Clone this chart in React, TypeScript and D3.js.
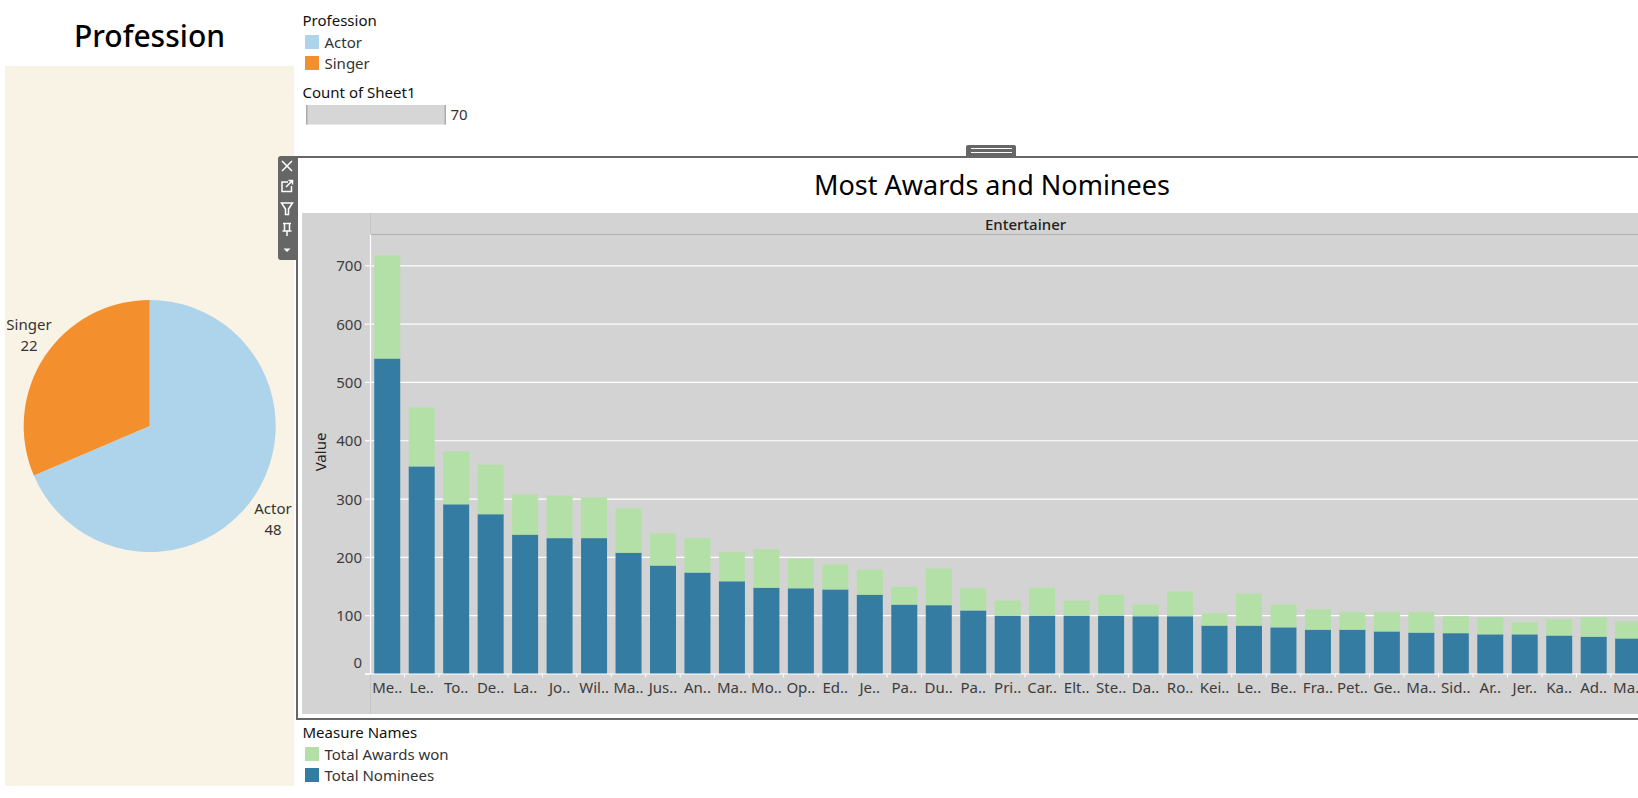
import { useEffect, useRef } from 'react'
import * as d3 from 'd3'

const WIDTH = 1638
const HEIGHT = 798
const FONT = '"Noto Sans", sans-serif'

const entertainers = ['Me..', 'Le..', 'To..', 'De..', 'La..', 'Jo..', 'Wil..', 'Ma..', 'Jus..', 'An..', 'Ma..', 'Mo..', 'Op..', 'Ed..', 'Je..', 'Pa..', 'Du..', 'Pa..', 'Pri..', 'Car..', 'Elt..', 'Ste..', 'Da..', 'Ro..', 'Kei..', 'Le..', 'Be..', 'Fra..', 'Pet..', 'Ge..', 'Ma..', 'Sid..', 'Ar..', 'Jer..', 'Ka..', 'Ad..', 'Ma..']
const totalNominees = [541, 356, 291, 274, 239, 233, 233, 208, 186, 174, 159, 148, 147, 145, 136, 119, 118, 109, 100, 100, 100, 100, 99, 99, 83, 83, 80, 76, 76, 73, 71, 70, 68, 68, 66, 64, 61]
const totalAwards = [177, 101, 91, 85, 69, 73, 70, 76, 55, 59, 50, 66, 51, 43, 43, 31, 63, 38, 26, 48, 26, 36, 20, 43, 21, 55, 39, 35, 30, 33, 35, 29, 29, 21, 28, 33, 29]
const valueTicks = [0, 100, 200, 300, 400, 500, 600, 700]

const professions = ['Actor', 'Singer']
const professionCounts = [48, 22]

const measureNames = ['Total Awards won', 'Total Nominees']

const ACTOR = '#aed4ec'
const SINGER = '#f48f2d'
const AWARDS = '#b3e0a6'
const NOMINEES = '#347ca2'
const PANE = '#d3d3d3'
const BEIGE = '#f9f3e5'
const CHROME = '#666666'
const TEXT = '#333333'

export default function App() {
  const ref = useRef<SVGSVGElement | null>(null)

  useEffect(() => {
    const svg = d3.select(ref.current)
    svg.selectAll('*').remove()
    svg.attr('font-family', FONT)

    // Left dashboard panel with the pie
    svg.append('text')
      .attr('x', 149.5).attr('y', 47)
      .attr('text-anchor', 'middle')
      .attr('font-size', 30)
      .attr('font-weight', 500)
      .attr('fill', '#000')
      .text('Profession')
    svg.append('rect').attr('x', 5).attr('y', 66).attr('width', 289).attr('height', 720).attr('fill', BEIGE)

    const pieG = svg.append('g').attr('transform', 'translate(149.7,426)')
    const pie = d3.pie<number>().sort(null)
    const arc = d3.arc<d3.PieArcDatum<number>>().innerRadius(0).outerRadius(126)
    pieG.selectAll('path')
      .data(pie(professionCounts))
      .enter()
      .append('path')
      .attr('d', arc)
      .attr('fill', (_d, i) => (i === 0 ? ACTOR : SINGER))

    const pieLabels = [
      { x: 273, y: 513.5, i: 0 },
      { x: 29, y: 329.5, i: 1 },
    ]
    pieLabels.forEach((l) => {
      const t = svg.append('text')
        .attr('text-anchor', 'middle')
        .attr('font-size', 15)
        .attr('fill', TEXT)
      t.append('tspan').attr('x', l.x).attr('y', l.y).text(professions[l.i])
      t.append('tspan').attr('x', l.x).attr('y', l.y + 21).text(String(professionCounts[l.i]))
    })

    // Top legends
    const legendTitle = (s: string, y: number) =>
      svg.append('text').attr('x', 302.5).attr('y', y).attr('font-size', 15).attr('fill', '#111').text(s)
    const legendItem = (s: string, color: string, y: number) => {
      svg.append('rect').attr('x', 305).attr('y', y).attr('width', 14).attr('height', 14).attr('fill', color)
      svg.append('text').attr('x', 324.5).attr('y', y + 13).attr('font-size', 15).attr('fill', TEXT).text(s)
    }
    legendTitle('Profession', 26)
    professions.forEach((p, i) => legendItem(p, i === 0 ? ACTOR : SINGER, 35 + i * 21))
    legendTitle('Count of Sheet1', 97.5)
    svg.append('rect').attr('x', 306).attr('y', 105).attr('width', 140).attr('height', 19.5).attr('fill', '#d6d6d6')
    svg.append('rect').attr('x', 306).attr('y', 105).attr('width', 1.5).attr('height', 19.5).attr('fill', '#aaa')
    svg.append('rect').attr('x', 444.5).attr('y', 105).attr('width', 1.5).attr('height', 19.5).attr('fill', '#aaa')
    svg.append('text').attr('x', 450.5).attr('y', 120).attr('font-size', 15).attr('fill', TEXT).text('70')

    // Selected sheet frame
    svg.append('rect').attr('x', 297).attr('y', 157).attr('width', 1400).attr('height', 562)
      .attr('fill', '#fff').attr('stroke', CHROME).attr('stroke-width', 2)
    svg.append('text')
      .attr('x', 992).attr('y', 195)
      .attr('text-anchor', 'middle')
      .attr('font-size', 27)
      .attr('fill', '#000')
      .text('Most Awards and Nominees')

    // Drag handle above the frame
    svg.append('path').attr('d', 'M966,156V147a2,2 0 0 1 2,-2H1014a2,2 0 0 1 2,2V156Z').attr('fill', CHROME)
    svg.append('path').attr('d', 'M971,148.5H1012M971,152.5H1012').attr('stroke', '#fff').attr('stroke-width', 1)

    // Grey pane and header strip
    const plotLeft = 370.5
    const baseY = 674
    svg.append('rect').attr('x', 302).attr('y', 213).attr('width', 1340).attr('height', 501).attr('fill', PANE)
    svg.append('line').attr('x1', plotLeft).attr('x2', WIDTH).attr('y1', 234.5).attr('y2', 234.5).attr('stroke', '#b0b0b0')
    svg.append('line').attr('x1', plotLeft).attr('x2', plotLeft).attr('y1', 213).attr('y2', 714).attr('stroke', '#c6c6c6')
    svg.append('text')
      .attr('x', 1025.5).attr('y', 230)
      .attr('text-anchor', 'middle')
      .attr('font-size', 15)
      .attr('font-weight', 500)
      .attr('fill', '#222')
      .text('Entertainer')

    const x = d3.scaleBand<string>()
      .domain(entertainers.map((_d, i) => String(i)))
      .range([370, 370 + 37 * 34.47])
      .paddingInner(0.246)
      .paddingOuter(0.123)
    const y = d3.scaleLinear().domain([0, 700]).range([baseY, 265.8])

    // Gridlines and value axis
    valueTicks.filter((t) => t > 0).forEach((t) => {
      svg.append('line').attr('x1', plotLeft).attr('x2', WIDTH).attr('y1', y(t)).attr('y2', y(t))
        .attr('stroke', '#fff').attr('stroke-width', 1.2)
    })
    valueTicks.forEach((t) => {
      svg.append('line').attr('x1', 365).attr('x2', plotLeft).attr('y1', y(t)).attr('y2', y(t))
        .attr('stroke', '#fff').attr('stroke-width', 1.2)
      svg.append('text')
        .attr('x', 362).attr('y', t === 0 ? 668 : y(t) + 5.5)
        .attr('text-anchor', 'end')
        .attr('font-size', 15)
        .attr('fill', '#3c3c3c')
        .text(String(t))
    })
    svg.append('line').attr('x1', plotLeft).attr('x2', plotLeft).attr('y1', 234.5).attr('y2', baseY)
      .attr('stroke', '#fff').attr('stroke-width', 1.2)
    svg.append('text')
      .attr('transform', 'translate(325.5,452) rotate(-90)')
      .attr('text-anchor', 'middle')
      .attr('font-size', 15)
      .attr('fill', '#222')
      .text('Value')

    // Stacked bars
    const bars = svg.append('g')
    entertainers.forEach((_name, i) => {
      const n = totalNominees[i]
      const a = totalAwards[i]
      const key = String(i)
      bars.append('rect')
        .attr('x', x(key)!).attr('width', x.bandwidth())
        .attr('y', y(n)).attr('height', y(0) - y(n))
        .attr('fill', NOMINEES)
      bars.append('rect')
        .attr('x', x(key)!).attr('width', x.bandwidth())
        .attr('y', y(n + a)).attr('height', y(n) - y(n + a))
        .attr('fill', AWARDS)
    })

    // Category axis
    svg.append('line').attr('x1', 365).attr('x2', WIDTH).attr('y1', baseY).attr('y2', baseY)
      .attr('stroke', '#fff').attr('stroke-width', 1.2)
    entertainers.forEach((name, i) => {
      const key = String(i)
      const cx = x(key)! + x.bandwidth() / 2
      svg.append('line')
        .attr('x1', cx + x.step() / 2).attr('x2', cx + x.step() / 2)
        .attr('y1', baseY).attr('y2', baseY + 3.5)
        .attr('stroke', '#fff')
      svg.append('text')
        .attr('x', cx).attr('y', 692.5)
        .attr('text-anchor', 'middle')
        .attr('font-size', 15)
        .attr('fill', '#3c3c3c')
        .text(name)
    })

    // Bottom legend
    legendTitle('Measure Names', 737.5)
    measureNames.forEach((m, i) => legendItem(m, i === 0 ? AWARDS : NOMINEES, 747 + i * 21))

    // Floating toolbar of the selected sheet
    svg.append('path').attr('d', 'M298,156H281a3,3 0 0 0 -3,3V257a3,3 0 0 0 3,3H296V259H298Z').attr('fill', CHROME)
    const icons = svg.append('g').attr('fill', 'none').attr('stroke', '#fff').attr('stroke-width', 1.5)
    icons.append('path').attr('d', 'M282,161L292,171M292,161L282,171')
    icons.append('path').attr('d', 'M288,182H282V191.5H291.5V186M286,187L292.5,180.5M288.5,180.5H292.5V184.5')
    icons.append('path').attr('d', 'M281.5,203H292.5L288.5,209V214.5H285.5V209Z')
    icons.append('path').attr('d', 'M283,223.5H291M284.5,223.5V230.5M289.5,223.5V230.5M282.5,231H291.5M287,231V236')
    svg.append('path').attr('d', 'M283.5,248.5H290.5L287,252Z').attr('fill', '#fff')
  }, [])

  return (
    <svg
      ref={ref}
      width={WIDTH}
      height={HEIGHT}
      style={{ position: 'absolute', left: 0, top: 0, background: '#fff' }}
    />
  )
}
